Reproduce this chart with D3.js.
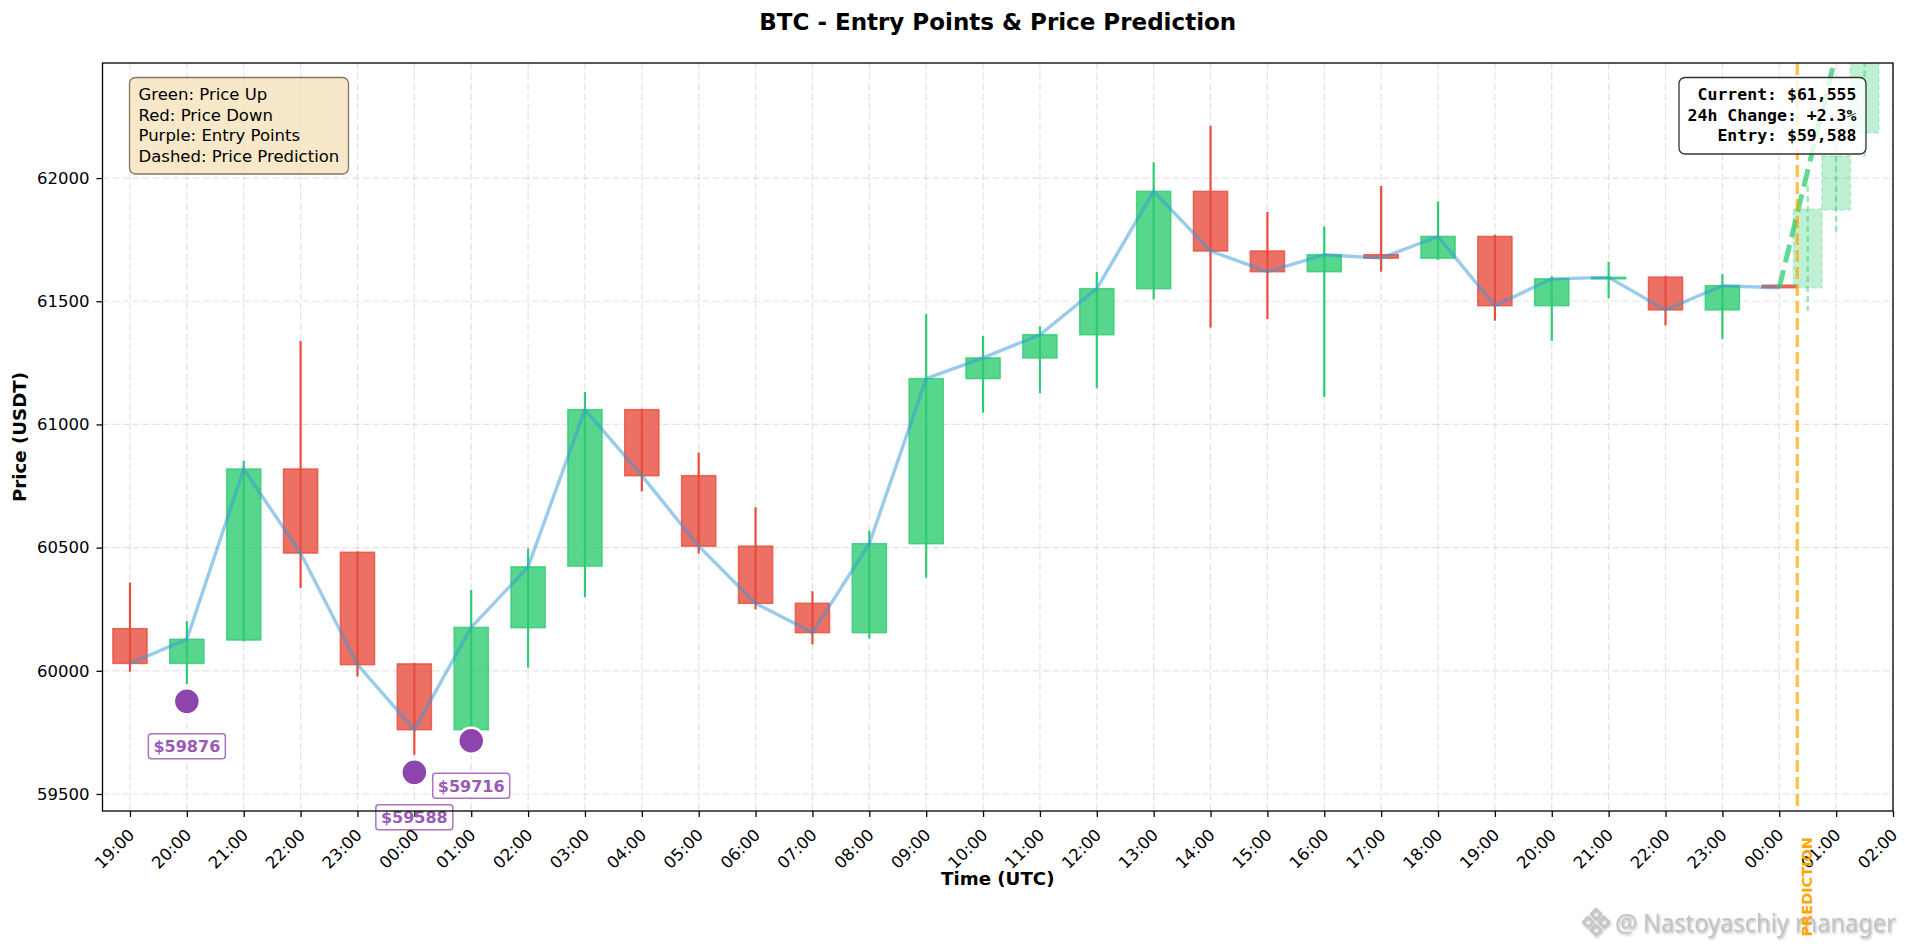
<!DOCTYPE html>
<html>
<head>
<meta charset="utf-8">
<script src="https://cdn.jsdelivr.net/npm/d3@7"></script>
<style>
  body { margin: 0; background: #fff; }
  svg { display: block; font-family: "DejaVu Sans", sans-serif; }
</style>
</head>
<body>
<div id="chart"></div>
<script>
// ---- data ----
const candleTimes = [
  "2024-06-14T19:00", "2024-06-14T20:00", "2024-06-14T21:00", "2024-06-14T22:00", "2024-06-14T23:00",
  "2024-06-15T00:00", "2024-06-15T01:00", "2024-06-15T02:00", "2024-06-15T03:00", "2024-06-15T04:00",
  "2024-06-15T05:00", "2024-06-15T06:00", "2024-06-15T07:00", "2024-06-15T08:00", "2024-06-15T09:00",
  "2024-06-15T10:00", "2024-06-15T11:00", "2024-06-15T12:00", "2024-06-15T13:00", "2024-06-15T14:00",
  "2024-06-15T15:00", "2024-06-15T16:00", "2024-06-15T17:00", "2024-06-15T18:00", "2024-06-15T19:00",
  "2024-06-15T20:00", "2024-06-15T21:00", "2024-06-15T22:00", "2024-06-15T23:00", "2024-06-16T00:00"
];
const opens  = [60171, 60030, 60125, 60819, 60481, 60028, 59761, 60175, 60425, 61060,
                60792, 60506, 60274, 60155, 60516, 61186, 61270, 61364, 61551, 61946,
                61704, 61620, 61689, 61675, 61763, 61482, 61591, 61598, 61465, 61565];
const highs  = [60358, 60202, 60853, 61339, 60485, 60032, 60328, 60496, 61132, 61063,
                60886, 60664, 60323, 60570, 61448, 61359, 61398, 61620, 62064, 62212,
                61862, 61803, 61968, 61905, 61770, 61601, 61660, 61603, 61610, 61566];
const lows   = [59996, 59946, 60119, 60336, 59977, 59659, 59745, 60013, 60299, 60728,
                60476, 60250, 60107, 60131, 60378, 61048, 61127, 61147, 61507, 61393,
                61428, 61112, 61620, 61668, 61421, 61339, 61512, 61402, 61346, 61553];
const closes = [60030, 60128, 60819, 60478, 60025, 59761, 60176, 60422, 61060, 60792,
                60506, 60274, 60155, 60516, 61186, 61270, 61364, 61551, 61946, 61704,
                61620, 61689, 61675, 61763, 61482, 61591, 61597, 61465, 61563, 61555];

const entryTimes  = ["2024-06-14T20:00", "2024-06-15T00:00", "2024-06-15T01:00"];
const entryPrices = [59876, 59588, 59716];

const predTimes  = ["2024-06-16T00:30", "2024-06-16T01:00", "2024-06-16T01:30"];
const predOpens  = [61555, 61871, 62184];
const predHighs  = [61968, 62130, 62720];
const predLows   = [61460, 61770, 62089];
const predCloses = [61873, 62090, 62620];

const forecastTimes  = ["2024-06-16T00:00", "2024-06-16T00:30", "2024-06-16T01:00", "2024-06-16T01:30"];
const forecastPrices = [61555, 62030, 62505, 62980];

const predictionStart = "2024-06-16T00:19";
const xDomain = ["2024-06-14T18:31", "2024-06-16T02:00"];
const yDomain = [59431, 62467];
const yTicks = [59500, 60000, 60500, 61000, 61500, 62000];

const legendLines = ["Green: Price Up", "Red: Price Down", "Purple: Entry Points", "Dashed: Price Prediction"];
const infoLines = ["Current: $61,555", "24h Change: +2.3%", "Entry: $59,588"];

// ---- setup ----
const width = 1905, height = 949;
const plot = { left: 102.5, right: 1893, top: 63, bottom: 811 };
const UP = "#2ecc71", DOWN = "#e74c3c";

const parse = d3.utcParse("%Y-%m-%dT%H:%M");

const candles = candleTimes.map((t, i) => ({
  t: parse(t), o: opens[i], h: highs[i], l: lows[i], c: closes[i]
}));
const preds = predTimes.map((t, i) => ({
  t: parse(t), o: predOpens[i], h: predHighs[i], l: predLows[i], c: predCloses[i]
}));

const svg = d3.select("#chart").append("svg")
  .attr("width", width)
  .attr("height", height);

svg.append("rect").attr("width", width).attr("height", height).attr("fill", "#fff");

const x = d3.scaleUtc()
  .domain(xDomain.map(parse))
  .range([plot.left, plot.right]);

const y = d3.scaleLinear()
  .domain(yDomain)
  .range([plot.bottom, plot.top]);

const defs = svg.append("defs");
defs.append("clipPath").attr("id", "plot-clip")
  .append("rect")
  .attr("x", plot.left).attr("y", plot.top)
  .attr("width", plot.right - plot.left).attr("height", plot.bottom - plot.top);
defs.append("filter").attr("id", "wm-shadow")
  .attr("x", "-5%").attr("y", "-30%").attr("width", "110%").attr("height", "160%")
  .append("feDropShadow")
  .attr("dx", 1).attr("dy", 1.5).attr("stdDeviation", 1)
  .attr("flood-color", "#777").attr("flood-opacity", 0.5);

const hourTicks = x.ticks(d3.utcHour.every(1));

// grid
const grid = svg.append("g").attr("class", "grid")
  .attr("stroke", "#b0b0b0").attr("stroke-opacity", 0.35)
  .attr("stroke-width", 1.2).attr("stroke-dasharray", "7,3");
grid.selectAll(".gx").data(hourTicks).join("line")
  .attr("x1", d => x(d)).attr("x2", d => x(d))
  .attr("y1", plot.top).attr("y2", plot.bottom);
grid.selectAll(".gy").data(yTicks).join("line")
  .attr("x1", plot.left).attr("x2", plot.right)
  .attr("y1", d => y(d)).attr("y2", d => y(d));

const body = svg.append("g").attr("clip-path", "url(#plot-clip)");

// candles
const halfHour = 30 * 60 * 1000;
const bodyW = x(new Date(candles[0].t.getTime() + 36 * 60 * 1000)) - x(candles[0].t);

const cg = body.append("g").attr("class", "candles");
cg.selectAll("rect").data(candles).join("rect")
  .attr("x", d => x(d.t) - bodyW / 2)
  .attr("width", bodyW)
  .attr("y", d => y(Math.max(d.o, d.c)))
  .attr("height", d => Math.max(1, Math.abs(y(d.o) - y(d.c))))
  .attr("fill", d => d.c >= d.o ? UP : DOWN)
  .attr("fill-opacity", 0.8)
  .attr("stroke", d => d.c >= d.o ? UP : DOWN)
  .attr("stroke-opacity", 0.8)
  .attr("stroke-width", 1.5);
cg.selectAll("line").data(candles).join("line")
  .attr("x1", d => x(d.t)).attr("x2", d => x(d.t))
  .attr("y1", d => y(d.h)).attr("y2", d => y(d.l))
  .attr("stroke", d => d.c >= d.o ? UP : DOWN)
  .attr("stroke-width", 2.2);

// close price line
const line = d3.line().x(d => x(d.t)).y(d => y(d.c));
body.append("path")
  .datum(candles)
  .attr("d", line)
  .attr("fill", "none")
  .attr("stroke", "#3498db")
  .attr("stroke-opacity", 0.5)
  .attr("stroke-width", 3.4);

// predicted candles
const predW = x(new Date(preds[0].t.getTime() + halfHour)) - x(preds[0].t);
const pg = body.append("g").attr("class", "pred-candles");
pg.selectAll("rect").data(preds).join("rect")
  .attr("x", d => x(d.t) - predW / 2)
  .attr("width", predW)
  .attr("y", d => y(Math.max(d.o, d.c)))
  .attr("height", d => Math.abs(y(d.o) - y(d.c)))
  .attr("fill", UP).attr("fill-opacity", 0.3)
  .attr("stroke", UP).attr("stroke-opacity", 0.3)
  .attr("stroke-width", 1.5).attr("stroke-dasharray", "5,3");
pg.selectAll("line").data(preds).join("line")
  .attr("x1", d => x(d.t)).attr("x2", d => x(d.t))
  .attr("y1", d => y(d.h)).attr("y2", d => y(d.l))
  .attr("stroke", UP).attr("stroke-opacity", 0.45)
  .attr("stroke-width", 2.5).attr("stroke-dasharray", "6,4");

// forecast dashed line
const forecast = forecastTimes.map((t, i) => ({ t: parse(t), c: forecastPrices[i] }));
body.append("path")
  .datum(forecast)
  .attr("d", line)
  .attr("fill", "none")
  .attr("stroke", UP)
  .attr("stroke-opacity", 0.75)
  .attr("stroke-width", 5)
  .attr("stroke-dasharray", "18,8");

// prediction start line
const px = x(parse(predictionStart));
body.append("line")
  .attr("x1", px).attr("x2", px)
  .attr("y1", plot.top).attr("y2", plot.bottom)
  .attr("stroke", "#ffa500").attr("stroke-opacity", 0.7)
  .attr("stroke-width", 3.3).attr("stroke-dasharray", "12,5");

// entry points
const entries = entryTimes.map((t, i) => ({ t: parse(t), p: entryPrices[i] }));
svg.append("g").selectAll("circle").data(entries).join("circle")
  .attr("cx", d => x(d.t)).attr("cy", d => y(d.p))
  .attr("r", 13)
  .attr("fill", "#8e44ad")
  .attr("stroke", "#fff").attr("stroke-width", 2.5);

const labels = svg.append("g").selectAll("g").data(entries).join("g")
  .attr("transform", d => `translate(${x(d.t)},${y(d.p) + 45})`);
labels.append("rect")
  .attr("x", -38.5).attr("y", -12.5)
  .attr("width", 77).attr("height", 25).attr("rx", 3)
  .attr("fill", "#fff").attr("fill-opacity", 0.85)
  .attr("stroke", "#9b59b6").attr("stroke-opacity", 0.85).attr("stroke-width", 1.5);
labels.append("text")
  .attr("text-anchor", "middle")
  .attr("dy", "0.36em")
  .attr("font-size", 16)
  .attr("font-weight", "bold")
  .attr("fill", "#9b59b6")
  .text(d => `$${d.p}`);

// spines
svg.append("rect")
  .attr("x", plot.left).attr("y", plot.top)
  .attr("width", plot.right - plot.left).attr("height", plot.bottom - plot.top)
  .attr("fill", "none").attr("stroke", "#000").attr("stroke-width", 1.3);

// axes
const xAxis = d3.axisBottom(x)
  .tickValues(hourTicks)
  .tickFormat(d3.utcFormat("%H:%M"))
  .tickSize(6);
const gx = svg.append("g")
  .attr("transform", `translate(0,${plot.bottom})`)
  .call(xAxis);
gx.select(".domain").remove();
gx.selectAll(".tick line").attr("stroke-width", 1.3);
gx.selectAll(".tick text")
  .attr("font-family", "DejaVu Sans")
  .attr("font-size", 16.5)
  .attr("fill", "#000")
  .attr("text-anchor", "end")
  .attr("x", 0).attr("y", 0).attr("dy", 0)
  .attr("transform", "translate(5,25) rotate(-45)");

const yAxis = d3.axisLeft(y)
  .tickValues(yTicks)
  .tickFormat(d3.format("d"))
  .tickSize(6)
  .tickPadding(7);
const gy = svg.append("g")
  .attr("transform", `translate(${plot.left},0)`)
  .call(yAxis);
gy.select(".domain").remove();
gy.selectAll(".tick line").attr("stroke-width", 1.3);
gy.selectAll(".tick text")
  .attr("font-family", "DejaVu Sans")
  .attr("font-size", 16.5)
  .attr("fill", "#000");

// titles
const midX = (plot.left + plot.right) / 2;
svg.append("text")
  .attr("x", midX).attr("y", 30)
  .attr("text-anchor", "middle")
  .attr("font-size", 23).attr("font-weight", "bold")
  .text("BTC - Entry Points & Price Prediction");
svg.append("text")
  .attr("x", midX).attr("y", 885)
  .attr("text-anchor", "middle")
  .attr("font-size", 18.2).attr("font-weight", "bold")
  .text("Time (UTC)");
svg.append("text")
  .attr("transform", `translate(26,${(plot.top + plot.bottom) / 2}) rotate(-90)`)
  .attr("text-anchor", "middle")
  .attr("font-size", 18.2).attr("font-weight", "bold")
  .text("Price (USDT)");

// legend box (top-left)
const lg = svg.append("g");
lg.append("rect")
  .attr("x", 129.5).attr("y", 77.5).attr("width", 219).attr("height", 96.5).attr("rx", 6)
  .attr("fill", "#f5deb3").attr("fill-opacity", 0.7)
  .attr("stroke", "#857660").attr("stroke-width", 1.3);
lg.selectAll("text").data(legendLines).join("text")
  .attr("x", 138.5)
  .attr("y", (d, i) => 100 + i * 20.6)
  .attr("font-size", 16.5)
  .text(d => d);

// info box (top-right)
const ig = svg.append("g");
ig.append("rect")
  .attr("x", 1679).attr("y", 77.5).attr("width", 187).attr("height", 76.5).attr("rx", 6)
  .attr("fill", "#fff").attr("fill-opacity", 0.8)
  .attr("stroke", "#333").attr("stroke-width", 1.3);
ig.selectAll("text").data(infoLines).join("text")
  .attr("x", 1856.5)
  .attr("y", (d, i) => 100 + i * 20.6)
  .attr("text-anchor", "end")
  .attr("font-family", "DejaVu Sans Mono")
  .attr("font-size", 16.5).attr("font-weight", "bold")
  .text(d => d);

// watermark
const wmg = svg.append("g").attr("filter", "url(#wm-shadow)");
const wm = wmg.append("g").attr("fill", "none").attr("stroke", "#c4c4c4").attr("stroke-width", 2.4);
[[0, -8], [-8, 0], [8, 0], [0, 8]].forEach(([dx, dy]) => {
  wm.append("path")
    .attr("d", `M${1596 + dx},${922 + dy - 5} l5,5 l-5,5 l-5,-5 z`);
});
wmg.append("text")
  .attr("x", 1615).attr("y", 932)
  .attr("font-family", "Noto Sans").attr("font-size", 25)
  .attr("fill", "#c4c4c4")
  .text("@");
wmg.append("text")
  .attr("x", 1643).attr("y", 932)
  .attr("font-family", "Noto Sans").attr("font-size", 25)
  .attr("textLength", 253).attr("lengthAdjust", "spacingAndGlyphs")
  .attr("fill", "#c4c4c4")
  .text("Nastoyaschiy manager");

// PREDICTION label below the axis, drawn over the watermark
svg.append("text")
  .attr("transform", `translate(${px + 15},837) rotate(-90)`)
  .attr("text-anchor", "end")
  .attr("font-size", 14.5)
  .attr("font-weight", "bold")
  .attr("fill", "#ffa500")
  .text("PREDICTION");
</script>
</body>
</html>
